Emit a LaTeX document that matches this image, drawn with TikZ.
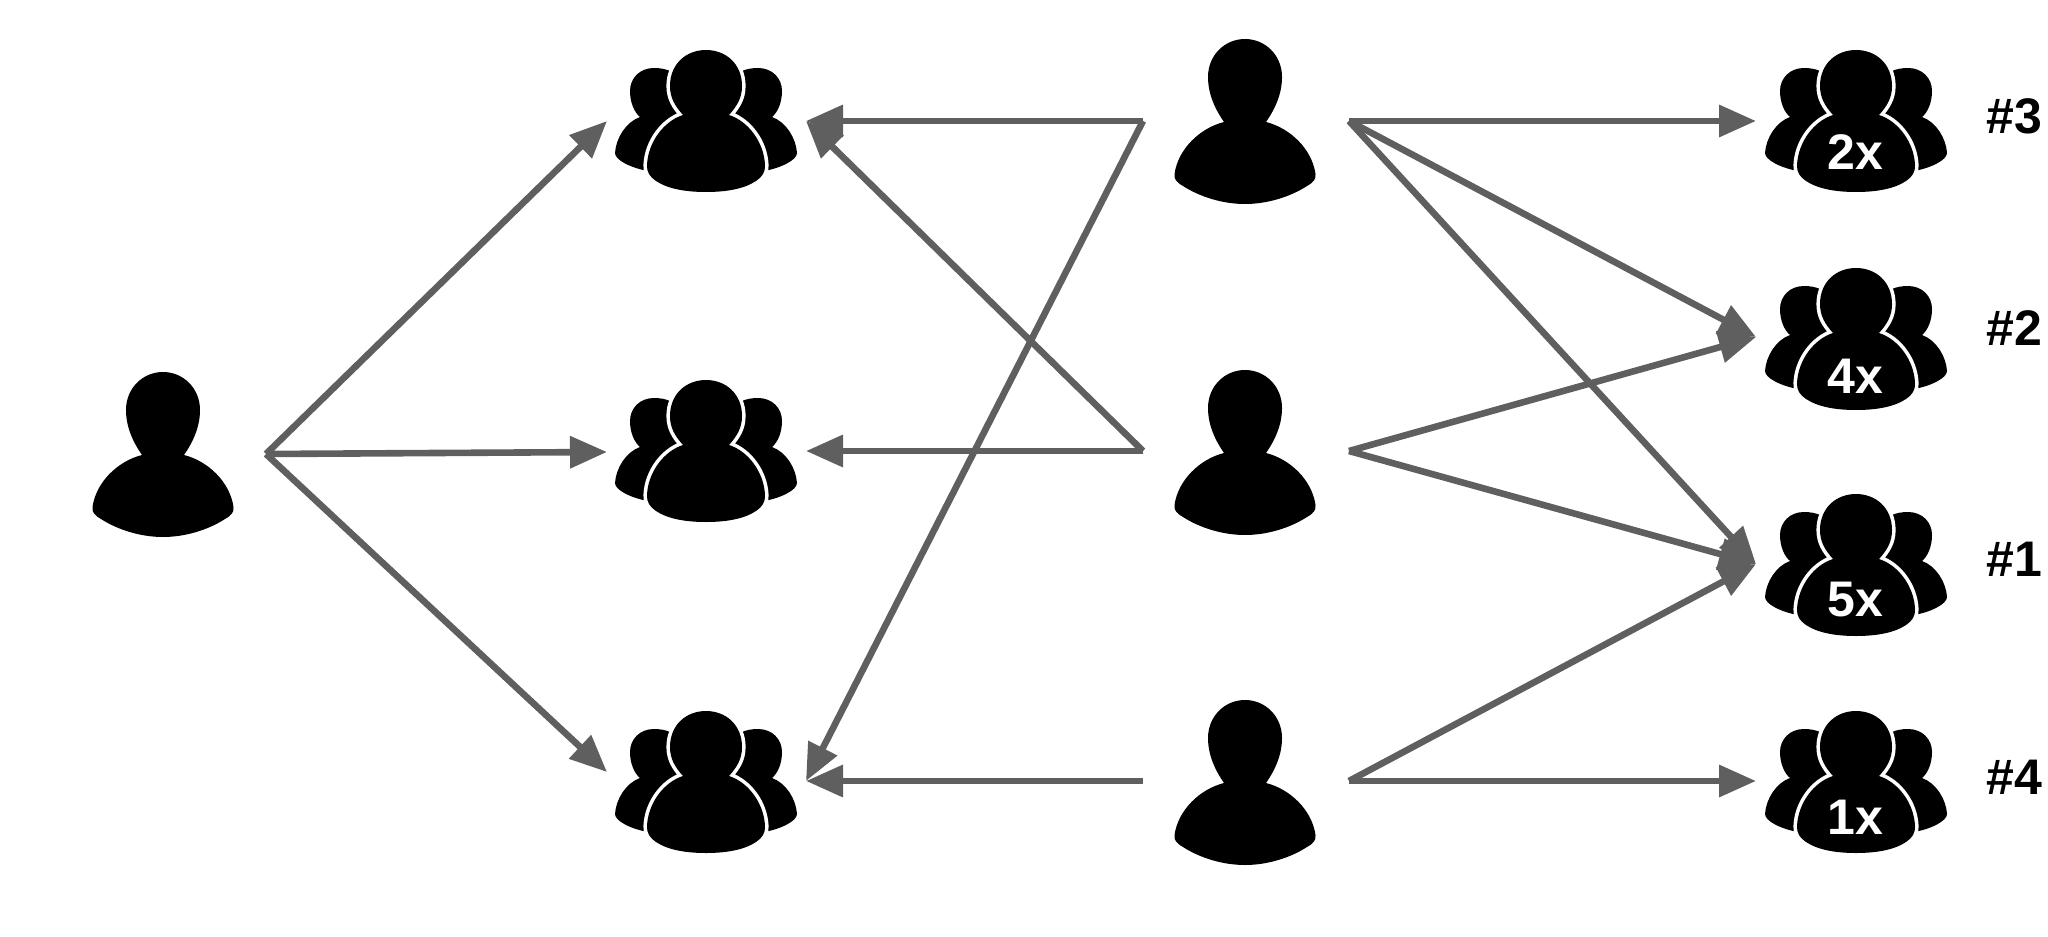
\documentclass[tikz,border=0pt]{standalone}
\usepackage{fontspec}
\setmainfont{Liberation Sans}
\usetikzlibrary{arrows.meta}
\definecolor{conn}{HTML}{5F5F5F}
\newcommand\frontfig{(-23,65) .. controls (-31,56) and (-36,48) .. (-36,36)
      .. controls (-36,14) and (-20,0) .. (0,0)
      .. controls (20,0) and (36,14) .. (36,36)
      .. controls (36,48) and (31,56) .. (23,65)
      .. controls (42,71) and (58,92) .. (59,115)
      .. controls (59.5,122) and (56,127) .. (50,131)
      .. controls (38,139) and (20,142) .. (0,142)
      .. controls (-20,142) and (-38,139) .. (-50,131)
      .. controls (-56,127) and (-59.5,122) .. (-59,115)
      .. controls (-58,92) and (-42,71) .. (-23,65) -- cycle}
\tikzset{
  x=0.5pt,y=-0.5pt,
  link/.style={draw=conn,line width=3.3pt,-{Triangle[length=18.5pt,width=15.5pt]}},
  badge/.style={text=white,font=\bfseries\fontsize{25}{25}\selectfont,inner sep=0pt},
  rank/.style={text=black,font=\bfseries\fontsize{25}{25}\selectfont,inner sep=0pt,anchor=west},
  person/.pic={
    \fill (-21,83) .. controls (-30,70) and (-37,55) .. (-37,38)
      .. controls (-37,16) and (-20,0) .. (0,0)
      .. controls (20,0) and (37,16) .. (37,38)
      .. controls (37,55) and (30,70) .. (21,83)
      .. controls (45,89) and (67,110) .. (70.5,135)
      .. controls (71,140) and (69,143) .. (62,147)
      .. controls (45,158) and (22,165) .. (0,165)
      .. controls (-22,165) and (-45,158) .. (-62,147)
      .. controls (-69,143) and (-71,140) .. (-70.5,135)
      .. controls (-67,110) and (-45,89) .. (-21,83) -- cycle;
  },
  group/.pic={
    % back figures
    \fill (-66,67) .. controls (-72,62) and (-76,52) .. (-76,41)
      .. controls (-76,28) and (-66,18) .. (-52,18)
      .. controls (-40,18) and (-30,22) .. (-25,30)
      -- (-30,115) -- (-58,121)
      .. controls (-75,118) and (-91,110) .. (-91,103)
      .. controls (-90,88) and (-80,72) .. (-66,67) -- cycle;
    \fill (66,67) .. controls (72,62) and (76,52) .. (76,41)
      .. controls (76,28) and (66,18) .. (52,18)
      .. controls (40,18) and (30,22) .. (25,30)
      -- (30,115) -- (58,121)
      .. controls (75,118) and (91,110) .. (91,103)
      .. controls (90,88) and (80,72) .. (66,67) -- cycle;
    % front figure: white halo, then black on top
    \path[draw=white,line width=3.6pt,line join=round] \frontfig;
    \fill \frontfig;
  }
}
\begin{document}
\begin{tikzpicture}
\useasboundingbox (0,0) rectangle (2048,936);
% figures
\path (163,372) pic {person};
\path (1245,39) pic {person};
\path (1245,370) pic {person};
\path (1245,700) pic {person};
\path (706,50) pic {group};
\path (706,380) pic {group};
\path (706,711) pic {group};
\path (1856,50) pic {group};
\path (1856,268) pic {group};
\path (1856,494) pic {group};
\path (1856,711) pic {group};
% labels
\node[badge] (b2) at (1855,152) {2x};
\node[badge] (b4) at (1855,376) {4x};
\node[badge] (b5) at (1855,600) {5x};
\node[badge] (b1) at (1855,817) {1x};
\node[rank] (r3) at (1986,116) {\#3};
\node[rank] (r2) at (1986,328) {\#2};
\node[rank] (r1) at (1986,559) {\#1};
\node[rank] (r4) at (1986,777) {\#4};
% ports
\coordinate (p0) at (266,454);
\coordinate (g1w) at (607,121);
\coordinate (g2w) at (607,452);
\coordinate (g3w) at (607,772);
\coordinate (g1e) at (806,121);
\coordinate (g2e) at (806,451);
\coordinate (g3e) at (806,781);
\coordinate (m1w) at (1143,121);
\coordinate (m2w) at (1143,451);
\coordinate (m3w) at (1143,781);
\coordinate (m1e) at (1349,121);
\coordinate (m2e) at (1349,451);
\coordinate (m3e) at (1349,781);
\coordinate (t1) at (1756,121);
\coordinate (t2) at (1756,337);
\coordinate (t3) at (1756,564);
\coordinate (t4) at (1756,781);
% connectors
\draw[link] (p0) -- (g1w);
\draw[link] (p0) -- (g2w);
\draw[link] (p0) -- (g3w);
\draw[link] (m1w) -- (g1e);
\draw[link] (m1w) -- (g3e);
\draw[link] (m2w) -- (g1e);
\draw[link] (m2w) -- (g2e);
\draw[link] (m3w) -- (g3e);
\draw[link] (m1e) -- (t1);
\draw[link] (m1e) -- (t2);
\draw[link] (m1e) -- (t3);
\draw[link] (m2e) -- (t2);
\draw[link] (m2e) -- (t3);
\draw[link] (m3e) -- (t3);
\draw[link] (m3e) -- (t4);
\end{tikzpicture}
\end{document}
